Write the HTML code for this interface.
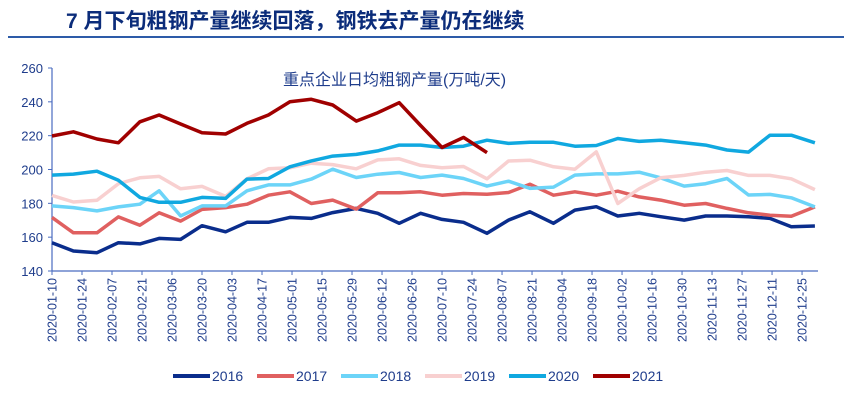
<!DOCTYPE html>
<html><head><meta charset="utf-8">
<style>
body{margin:0;background:#fff;width:844px;height:408px;overflow:hidden;font-family:"Liberation Sans","Noto Sans CJK SC",sans-serif;}
</style></head>
<body>
<svg id="chart" width="844" height="408" xmlns="http://www.w3.org/2000/svg" font-family="Liberation Sans, Noto Sans CJK SC, sans-serif">
<text x="66" y="28" font-size="21" font-weight="bold" fill="#0b2c7a">7 月下旬粗钢产量继续回落，钢铁去产量仍在继续</text>
<line x1="8" y1="37" x2="844" y2="37" stroke="#2d5ba8" stroke-width="2"/>
<text x="283" y="85" font-size="16" fill="#1f3d8c">重点企业日均粗钢产量(万吨/天)</text>
<g id="axes"></g><g id="series"></g><g id="legend"></g>
</svg>
<script>
const yTicks=[140,160,180,200,220,240,260];
const xTickLabels=["2020-01-10","2020-01-24","2020-02-07","2020-02-21","2020-03-06","2020-03-20","2020-04-03","2020-04-17","2020-05-01","2020-05-15","2020-05-29","2020-06-12","2020-06-26","2020-07-10","2020-07-24","2020-08-07","2020-08-21","2020-09-04","2020-09-18","2020-10-02","2020-10-16","2020-10-30","2020-11-13","2020-11-27","2020-12-11","2020-12-25"];
const pointDates=["2020-01-10","2020-01-20","2020-01-31","2020-02-10","2020-02-20","2020-02-29","2020-03-10","2020-03-20","2020-03-31","2020-04-10","2020-04-20","2020-04-30","2020-05-10","2020-05-20","2020-05-31","2020-06-10","2020-06-20","2020-06-30","2020-07-10","2020-07-20","2020-07-31","2020-08-10","2020-08-20","2020-08-31","2020-09-10","2020-09-20","2020-09-30","2020-10-10","2020-10-20","2020-10-31","2020-11-10","2020-11-20","2020-11-30","2020-12-10","2020-12-20","2020-12-31"];
const seriesNames=["2016","2017","2018","2019","2020","2021"];
const s2016=[156.7,151.8,150.8,156.7,156,159.3,158.7,166.8,163.2,168.8,168.8,171.7,171.1,174.5,177,174.1,168.2,174.1,170.5,168.8,162.3,170.1,175,168.2,176,178,172.5,174.1,172.1,170.1,172.5,172.5,172.1,171.1,166.2,166.6];
const s2017=[171.7,162.6,162.6,172,167.1,174.4,169.5,176.4,177.5,179.5,184.8,186.8,179.9,181.9,176.6,186.2,186.2,186.8,184.8,185.8,185.4,186.4,191.3,184.8,186.8,184.8,187.2,183.8,181.9,178.9,179.9,177,174.4,173,172.4,177.9];
const s2018=[178.5,177.5,175.5,177.9,179.5,187.4,172.6,178.5,178.5,187.4,190.9,190.9,194.3,200.2,195.3,197.2,198.2,195.3,196.7,194.7,190.2,193.1,188.8,189.6,196.7,197.4,197.4,198.4,195.1,190.2,191.6,194.7,184.9,185.3,183.3,177.9];
const s2019=[184.7,180.8,181.8,191.6,195.1,195.9,188.6,190,184.1,194.5,200.4,201,203.7,202.9,200.4,205.7,206.3,202.4,201,201.8,194.5,205,205.5,201.6,200.2,210.4,179.9,188.6,195.1,196.5,198.4,199.4,196.5,196.5,194.5,188.1];
const s2020=[196.7,197.3,199,193.7,183.5,180.6,180.6,183.5,182.9,194.3,194.7,201.6,205.1,207.9,208.9,211,214.4,214.4,213,213.8,217.3,215.4,216.1,216.1,213.8,214.2,218.3,216.6,217.3,215.8,214.4,211.5,210.3,220.3,220.3,215.8];
const s2021=[219.8,222.3,218,215.8,228.2,232.2,226.9,221.7,221,227.3,232.2,240,241.5,238.1,228.6,233.6,239.5,226,213,219,210];
const allSeries=[s2016,s2017,s2018,s2019,s2020,s2021];
const colors=["#0a2d8c","#e06060","#6cd4f8","#f8d0d0","#10a8e0","#a00000"];

const NS="http://www.w3.org/2000/svg";
const X0=52,X1=818,Y0=271,Y1=68,YMIN=140,YMAX=260;
const day=d=>(Date.parse(d)-Date.parse("2020-01-10"))/86400000;
const xs=d=>X0+day(d)*2.143;
const ys=v=>Y0-(v-YMIN)/(YMAX-YMIN)*(Y0-Y1);
function mk(tag,attrs,parent){const e=document.createElementNS(NS,tag);for(const k in attrs)e.setAttribute(k,attrs[k]);parent.appendChild(e);return e;}
const axes=document.getElementById('axes');
const ax=mk('line',{x1:X0,y1:Y1,x2:X0,y2:Y0,stroke:'#4a6cc0','stroke-width':1.2},axes);


const bx=mk('line',{x1:X0,y1:Y0,x2:X1,y2:Y0,stroke:'#4a6cc0','stroke-width':1.2},axes);


yTicks.forEach(v=>{
  const y=ys(v);
  mk('line',{x1:X0-4,y1:y,x2:X0,y2:y,stroke:'#4a6cc0'},axes);
  const t=mk('text',{x:X0-9,y:y+5,'font-size':13,'text-anchor':'end',fill:'#1f3d8c'},axes);
  t.textContent=v;
  
  
});
xTickLabels.forEach(d=>{
  const x=xs(d);
  mk('line',{x1:x,y1:Y0,x2:x,y2:Y0+4,stroke:'#4a6cc0'},axes);
  const t=mk('text',{x:0,y:0,'font-size':12.5,'text-anchor':'end',fill:'#1f3d8c',transform:`translate(${x+4.5},${Y0+7}) rotate(-90)`},axes);
  t.textContent=d;
  
  
});
const sg=document.getElementById('series');
allSeries.forEach((s,i)=>{
  const pts=s.map((v,j)=>xs(pointDates[j]).toFixed(1)+','+ys(v).toFixed(1)).join(' ');
  const p=mk('polyline',{points:pts,fill:'none',stroke:colors[i],'stroke-width':3.5,'stroke-linejoin':'round'},sg);
  
  
});
const lg=document.getElementById('legend');
seriesNames.forEach((n,i)=>{
  const x=173+i*84;
  const g=mk('g',{},lg);
  
  
  mk('line',{x1:x,y1:376,x2:x+37,y2:376,stroke:colors[i],'stroke-width':4},g);
  const t=mk('text',{x:x+39,y:381,'font-size':14,fill:'#1f3d8c'},g);
  t.textContent=n;
});
</script>
</body></html>
